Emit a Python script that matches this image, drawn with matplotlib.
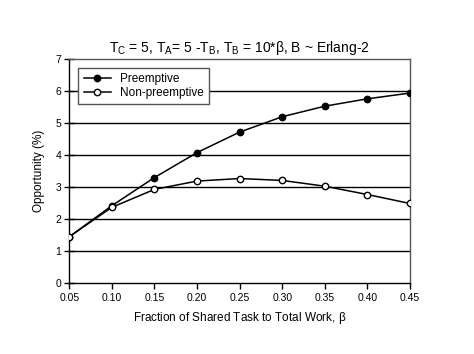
import matplotlib
matplotlib.use("Agg")
import matplotlib.pyplot as plt

plt.rcParams['font.family'] = ['Liberation Sans', 'DejaVu Sans']
plt.rcParams['mathtext.fontset'] = 'custom'
plt.rcParams['mathtext.rm'] = 'Liberation Sans'
plt.rcParams['mathtext.it'] = 'Liberation Sans'

# data
beta = [0.05, 0.10, 0.15, 0.20, 0.25, 0.30, 0.35, 0.40, 0.45]
preemptive = [1.45, 2.42, 3.30, 4.08, 4.72, 5.20, 5.53, 5.76, 5.94]
non_preemptive = [1.45, 2.37, 2.93, 3.19, 3.27, 3.21, 3.03, 2.77, 2.49]
x_ticks = [0.05, 0.10, 0.15, 0.20, 0.25, 0.30, 0.35, 0.40, 0.45]
y_ticks = [0, 1, 2, 3, 4, 5, 6, 7]

fig = plt.figure(figsize=(4.74, 3.54), dpi=100)
ax = fig.add_axes([0.146, 0.2, 0.719, 0.633])

for y in y_ticks[1:-1]:
    ax.axhline(y, color='black', linewidth=1.0, zorder=1)

ax.plot(beta, preemptive, color='black', linewidth=1.1, marker='o',
        markersize=4.6, markerfacecolor='black', markeredgecolor='black',
        label='Preemptive', zorder=3)
ax.plot(beta, non_preemptive, color='black', linewidth=1.1, marker='o',
        markersize=4.6, markerfacecolor='white', markeredgecolor='black',
        label='Non-preemptive', zorder=3)

ax.set_xlim(0.05, 0.45)
ax.set_ylim(0, 7)
ax.set_xticks(x_ticks)
ax.set_xticklabels([f'{v:.2f}' for v in x_ticks])
ax.set_yticks(y_ticks)

for s in ax.spines.values():
    s.set_color('#555555')
    s.set_linewidth(1.0)
ax.spines['left'].set_color('black')
ax.spines['bottom'].set_color('black')

ax.tick_params(axis='y', direction='inout', length=7, width=1, labelsize=7.5, pad=2)
ax.tick_params(axis='x', direction='out', length=4, width=1, labelsize=7.5, pad=3)

ax.set_ylabel('Opportunity (%)', fontsize=8.5, labelpad=8)
ax.set_xlabel(r'Fraction of Shared Task to Total Work, $\beta$', fontsize=8.5, labelpad=5)
ax.set_title(r'T$_\mathregular{C}$ = 5, T$_\mathregular{A}$= 5 -T$_\mathregular{B}$, '
             r'T$_\mathregular{B}$ = 10*$\beta$, B ~ Erlang-2', fontsize=10, pad=5)

leg = ax.legend(loc='upper left', fontsize=8.5, frameon=True, fancybox=False,
                edgecolor='#555555', framealpha=1, borderpad=0.45,
                handlelength=2.3, labelspacing=0.15, borderaxespad=0,
                bbox_to_anchor=(0.027, 0.96))
leg.get_frame().set_linewidth(1.0)

fig.savefig('out.png', dpi=100)
